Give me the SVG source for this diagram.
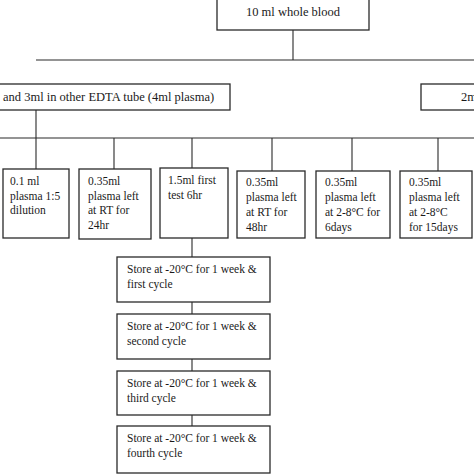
<svg xmlns="http://www.w3.org/2000/svg" width="474" height="474" viewBox="0 0 474 474">
<style>
.box{fill:#fff;stroke:#2a2a2a;stroke-width:1.3}
.ln{stroke:#2a2a2a;stroke-width:1.1;fill:none}
text{font-family:"Liberation Serif","Times New Roman",serif;fill:#1a1a1a}
.t{font-size:12.5px}
.s{font-size:11.5px}
</style>
<rect width="474" height="474" fill="#fff"/>
<g id="connectors">
<path class="ln" d="M293 30V60M36 60H474M36 110V138M0 138H474"/>
<path class="ln" d="M36 138V169M114 138V169M192 138V168M272 138V171M352 138V171M438 138V171"/>
<path class="ln" d="M192 238V257M192 302V314M192 359V371M192 415V426"/>
</g>
<g id="n-whole"><rect class="box" x="217" y="-2" width="152" height="32"/><text class="t" x="293" y="16" text-anchor="middle">10 ml whole blood</text></g>
<g id="n-edta"><rect class="box" x="-5" y="84" width="235" height="26"/><text class="t" x="3" y="101">and 3ml in other EDTA tube (4ml plasma)</text></g>
<g id="n-2m"><rect class="box" x="421" y="84" width="60" height="26"/><text class="t" x="461" y="101">2m</text></g>
<g id="n1"><rect class="box" x="3" y="169" width="66" height="69"/><text class="s" x="10" y="185">0.1 ml</text><text class="s" x="10" y="200">plasma 1:5</text><text class="s" x="10" y="214">dilution</text></g>
<g id="n2"><rect class="box" x="79" y="169" width="72" height="70"/><text class="s" x="88" y="185">0.35ml</text><text class="s" x="88" y="200">plasma left</text><text class="s" x="88" y="214">at RT for</text><text class="s" x="88" y="229">24hr</text></g>
<g id="n3"><rect class="box" x="160" y="168" width="68" height="70"/><text class="s" x="168" y="184">1.5ml first</text><text class="s" x="168" y="199">test 6hr</text></g>
<g id="n4"><rect class="box" x="237" y="171" width="68" height="67"/><text class="s" x="246" y="186">0.35ml</text><text class="s" x="246" y="201">plasma left</text><text class="s" x="246" y="216">at RT for</text><text class="s" x="246" y="231">48hr</text></g>
<g id="n5"><rect class="box" x="316" y="171" width="74" height="67"/><text class="s" x="325" y="186">0.35ml</text><text class="s" x="325" y="201">plasma left</text><text class="s" x="325" y="216">at 2-8°C for</text><text class="s" x="325" y="231">6days</text></g>
<g id="n6"><rect class="box" x="400" y="171" width="72" height="67"/><text class="s" x="409" y="186">0.35ml</text><text class="s" x="409" y="201">plasma left</text><text class="s" x="409" y="216">at 2-8°C</text><text class="s" x="409" y="231">for 15days</text></g>
<g id="c1"><rect class="box" x="117" y="257" width="153" height="45"/><text class="s" x="127" y="273">Store at -20°C for 1 week &amp;</text><text class="s" x="127" y="288">first cycle</text></g>
<g id="c2"><rect class="box" x="117" y="314" width="153" height="45"/><text class="s" x="127" y="330">Store at -20°C for 1 week &amp;</text><text class="s" x="127" y="345">second cycle</text></g>
<g id="c3"><rect class="box" x="117" y="371" width="153" height="44"/><text class="s" x="127" y="387">Store at -20°C for 1 week &amp;</text><text class="s" x="127" y="402">third cycle</text></g>
<g id="c4"><rect class="box" x="117" y="426" width="153" height="47"/><text class="s" x="127" y="442">Store at -20°C for 1 week &amp;</text><text class="s" x="127" y="457">fourth cycle</text></g>
</svg>
